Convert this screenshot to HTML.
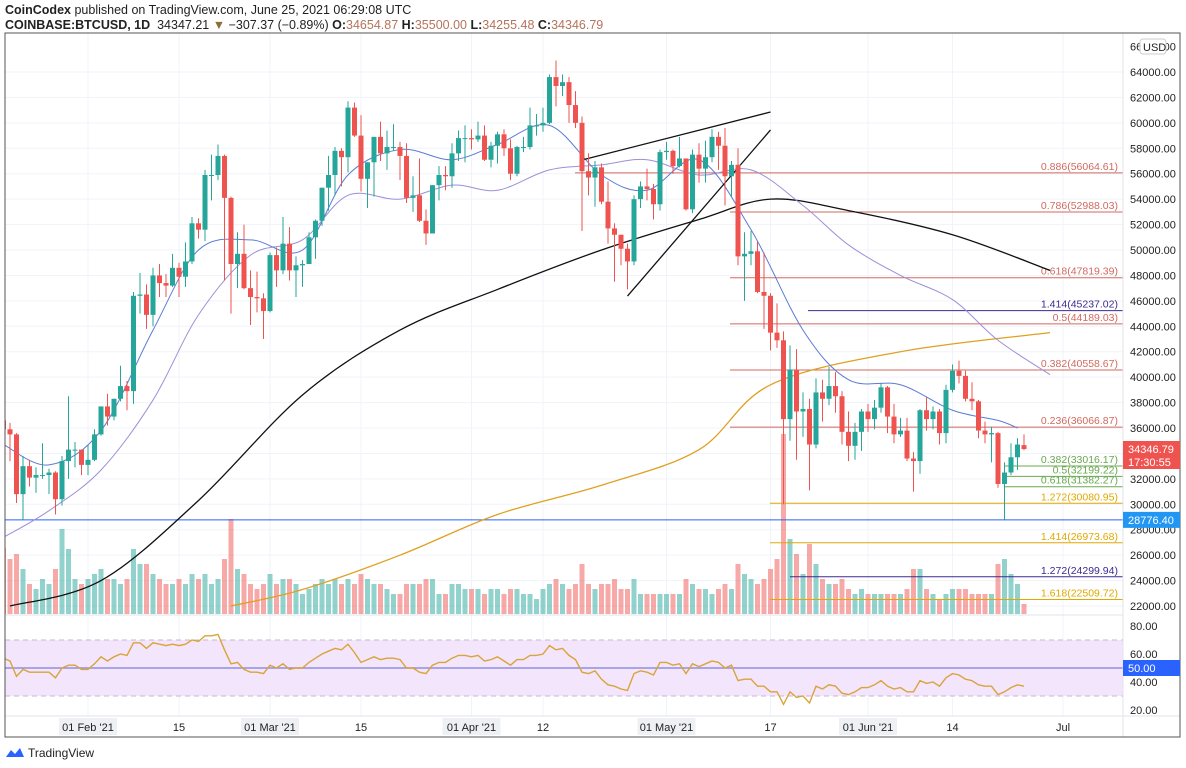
<!DOCTYPE html>
<html><head><meta charset="utf-8"><style>
body{margin:0;background:#fff;width:1186px;height:768px;overflow:hidden;font-family:"Liberation Sans",sans-serif}
#hdr1{position:absolute;left:5px;top:3px;font-size:12.5px;color:#222}
#hdr2{position:absolute;left:5px;top:18px;font-size:12.5px;color:#222}
.o{color:#b5735a}
svg{position:absolute;left:0;top:0}
</style></head><body>
<div id="hdr1"><b>CoinCodex</b> published on TradingView.com, June 25, 2021 06:29:08 UTC</div>
<div id="hdr2"><b>COINBASE:BTCUSD, 1D</b> &nbsp;34347.21 <span style="color:#8d6e3a">▼</span> −307.37 (−0.89%) <b>O:</b><span class="o">34654.87</span> <b>H:</b><span class="o">35500.00</span> <b>L:</b><span class="o">34255.48</span> <b>C:</b><span class="o">34346.79</span></div>
<svg id="chart" width="1186" height="768"></svg>
<script>
const closes=[35900,35500,30800,33000,32100,32300,32300,32500,30400,33400,34300,34300,33100,
33500,35500,37700,36900,38300,39300,38900,46400,46500,44900,48000,47400,47200,48600,47900,49100,52100,51600,55900,55900,57400,54100,48900,49700,47000,46300,46200,45200,
49600,48400,50500,48400,48800,48900,51000,52300,54900,55900,57800,57300,61200,59000,55600,56900,58900,57600,58100,58100,57400,54100,54300,52300,51300,55100,55900,55800,57600,58800,58800,
58700,59000,57100,58200,59100,58000,56000,58100,58100,59800,59800,60000,63600,62900,63200,61400,60000,56200,55700,56500,53800,51700,51200,50100,49100,54000,55000,54800,53600,57700,
57800,56600,57200,53200,57500,56400,57300,58900,58200,55800,56700,49500,49700,49900,46700,46400,43500,42900,36700,40600,37300,37500,34700,38800,38300,39300,38500,35700,34600,35700,37300,
36700,37600,39200,36900,35500,35800,33600,33400,37400,36700,37300,35600,39000,40500,40100,38300,38100,35800,35500,35600,31600,32500,33700,34700,34347];
const firstOpen=36600;
const highs=[37800,36400,35600,33800,33500,32900,34800,32800,32600,33800,38500,34900,34300,
34700,35900,37700,38700,38300,40900,39700,46700,48200,47300,48600,48900,48100,49700,49000,50600,52600,52500,56300,57500,58300,57500,54200,51400,52000,48400,48300,46600,
49800,50200,52600,51800,49500,49200,51400,52400,54900,57400,58100,58000,61700,61600,60600,56900,58900,60100,59400,59900,58500,58400,55800,57200,53200,55100,56600,56600,58400,59400,59800,
59500,60100,59800,58500,59300,59500,58700,58200,58900,61200,60700,61200,63800,64900,63800,63600,62500,60500,57600,57000,56800,55400,52100,51200,50500,54300,55400,56400,55200,57900,
58500,57900,58900,57200,57900,58400,58600,59500,59300,59600,57000,58000,51400,51500,50700,49800,46600,45800,43600,42500,42200,38800,38300,39900,39800,40800,40400,38900,37300,36400,37500,
37900,38200,39500,39300,37900,36800,36800,34100,37500,38400,37700,37500,39400,41000,41300,40500,39600,38200,36500,36100,35700,33300,34800,35200,35500];
const lows=[35500,33400,30100,28800,31400,30900,32000,30800,29200,29900,32000,32900,32300,
32300,33400,35400,36200,36600,38100,37400,37900,45000,43800,44000,46300,46300,47100,46300,47100,48900,50900,50700,53900,55500,47600,45000,47000,46900,44100,45100,43000,
45100,47100,48100,47600,46300,47100,48900,49300,51900,53100,54300,55000,56100,58900,54600,53300,54200,57000,56300,57800,55500,53700,53000,52200,50400,51300,53900,54700,54900,57000,56900,
57900,58500,57000,56500,56800,57400,55500,55800,57700,57900,59000,59300,59900,61300,62100,60000,59600,51500,54300,53400,53600,50500,47500,48800,46900,48800,53300,53900,52400,53100,
57100,56000,56500,53100,52900,55300,55300,56900,56300,53500,54200,48800,46000,48800,46600,43800,42100,42300,30000,35000,33500,35300,31100,34400,36500,37800,37200,34700,33400,33500,34200,
35700,35900,37200,35600,34800,35300,33400,31000,32400,35800,35900,34700,34800,38800,39500,38100,37400,35200,34800,33300,31300,28800,32300,32700,34255];
const volumes=[66,55,60,45,30,25,35,30,45,85,65,35,30,
35,40,45,35,35,30,35,65,50,50,40,35,30,30,35,30,40,35,40,30,35,55,95,45,40,30,25,30,
40,30,35,35,30,20,25,30,35,30,35,30,35,30,40,35,30,30,25,20,20,30,30,30,35,35,20,20,30,30,25,
25,25,20,25,25,20,25,25,20,20,15,25,30,35,30,25,30,50,30,25,30,30,35,25,25,35,20,20,20,20,
20,20,20,35,30,25,25,20,25,30,25,50,40,35,30,35,45,55,180,75,60,40,70,50,35,30,30,35,25,20,25,
20,20,20,20,20,20,25,45,45,25,20,15,20,25,25,25,20,20,20,20,50,55,40,30,10];
const rsi=[57,55,44,49,47,47,47,47,43,50,52,52,49,
49,53,58,55,58,60,59,68,68,64,68,67,66,67,66,67,70,69,73,73,74,63,53,54,49,47,47,46,
52,50,53,49,50,50,54,57,60,62,64,63,67,61,54,56,58,56,57,57,56,50,50,47,46,52,54,54,57,59,59,
58,59,55,56,58,55,52,56,56,59,59,60,66,63,64,59,56,47,46,48,42,38,37,35,34,46,48,47,45,54,
54,52,53,46,53,51,53,55,54,50,52,41,42,42,37,37,33,33,24,33,29,30,25,37,35,38,37,32,31,33,36,
36,38,41,37,35,36,33,33,41,39,40,37,43,46,45,42,41,38,37,37,31,33,36,38,37];
const ma20=[[0,34700],[7,33100],[15,35800],[23,43700],[30,50000],[38,50800],[46,50000],[53,55900],[61,57900],[69,57100],[76,58300],[84,59800],[92,55900],[99,54700],[107,57100],[115,51600],[123,43700],[130,39800],[138,39400],[146,37400],[153,36600],[156,36000]];
const ma50=[[0,27400],[7,29500],[15,32700],[23,38200],[30,44900],[38,49600],[46,50800],[53,54300],[61,54000],[69,55100],[76,54700],[84,56300],[92,56700],[99,57100],[107,55900],[115,56300],[123,53500],[130,50400],[138,48000],[146,46100],[153,42900],[161,40200]];
const ma100=[[1,22000],[15,24000],[30,30300],[46,38600],[61,43700],[76,46900],[92,50000],[107,52400],[118,54000],[130,53100],[146,51200],[161,48400]];
const ma200=[[35,22000],[46,23300],[61,26000],[76,29200],[92,31500],[107,34300],[118,39400],[138,42000],[161,43500]];
const priceTicks=[22000,24000,26000,28000,30000,32000,34000,36000,38000,40000,42000,44000,46000,48000,50000,52000,54000,56000,58000,60000,62000,64000];
const rsiTicks=[20,40,60,80];
const timeLabels=[["01 Feb '21",13,1],["15",27,0],["01 Mar '21",41,1],["15",55,0],["01 Apr '21",72,1],["12",83,0],["01 May '21",102,1],["17",118,0],["01 Jun '21",133,1],["14",146,0],["Jul",163,0]];
const fibs=[["0.886(56064.61)",56064.61,575,"#d06a60"],["0.786(52988.03)",52988.03,730,"#d06a60"],["0.618(47819.39)",47819.39,730,"#d06a60"],["1.414(45237.02)",45237.02,808,"#3b2a8f"],["0.5(44189.03)",44189.03,730,"#d06a60"],["0.382(40558.67)",40558.67,730,"#d06a60"],["0.236(36066.87)",36066.87,730,"#d06a60"],["0.382(33016.17)",33016.17,1005,"#6aa84f"],["0.5(32199.22)",32199.22,1005,"#6aa84f"],["0.618(31382.27)",31382.27,1005,"#6aa84f"],["1.272(30080.95)",30080.95,770,"#e0a800"],["1.414(26973.68)",26973.68,770,"#e0a800"],["1.272(24299.94)",24299.94,790,"#3b2a8f"],["1.618(22509.72)",22509.72,770,"#e0a800"]];
const trendLines=[[[89,57080],[118,60850]],[[96,46380],[118,59440]]];

const X=i=>3.5+i*6.5;
const Y=p=>72+(64000-p)/2000*25.43;
const RY=v=>668-(v-50)*1.4;
const VY=v=>614-v;
const R=1123;
const svg=document.getElementById('chart');
const NS='http://www.w3.org/2000/svg';
function mk(t,a,parent){const e=document.createElementNS(NS,t);for(const k in a)e.setAttribute(k,a[k]);(parent||svg).appendChild(e);return e;}

const defs=mk('defs',{});
const cp=mk('clipPath',{id:'cl'},defs);mk('rect',{x:5,y:33,width:R-5,height:582},cp);
const cp2=mk('clipPath',{id:'cl2'},defs);mk('rect',{x:5,y:616,width:R-5,height:100},cp2);

priceTicks.forEach(p=>{const l=mk('line',{x1:5,x2:R,y1:Y(p),y2:Y(p),stroke:'#f0f3fa'});
});
timeLabels.forEach(t=>{const l=mk('line',{x1:X(t[1]),x2:X(t[1]),y1:33,y2:716,stroke:'#f0f3fa'});
});

const band=mk('rect',{x:5,y:RY(70),width:R-5,height:RY(30)-RY(70),fill:'#f3e5fb'});

[70,30].forEach(v=>{const l=mk('line',{x1:5,x2:R,y1:RY(v),y2:RY(v),stroke:'#c9b5cf','stroke-dasharray':'5,4'});
});
const r50=mk('line',{x1:5,x2:R,y1:RY(50),y2:RY(50),stroke:'#8f8ee0','stroke-width':1.5});


const g=mk('g',{'clip-path':'url(#cl)'});
volumes.forEach((v,i)=>{const o=i?closes[i-1]:firstOpen;const up=closes[i]>=o;
const b=mk('rect',{x:X(i)-2.5,y:VY(v),width:5,height:v,fill:up?'rgba(38,166,154,0.5)':'rgba(239,83,80,0.5)'},g);
});

fibs.forEach(f=>{const y=Y(f[1]);
const l=mk('line',{x1:f[2],x2:R,y1:y,y2:y,stroke:f[3],'stroke-width':1},g);

const t=mk('text',{x:R-5,y:y-3,'text-anchor':'end','font-size':10.5,fill:f[3]},g);t.textContent=f[0];
});
const hl=mk('line',{x1:5,x2:R,y1:Y(28776.4),y2:Y(28776.4),stroke:'#2962ff','stroke-width':1},g);


function smooth(pts){let d='M'+pts[0][0]+','+pts[0][1];
for(let k=0;k<pts.length-1;k++){const p0=pts[k-1]||pts[k],p1=pts[k],p2=pts[k+1],p3=pts[k+2]||p2;
const c1=[p1[0]+(p2[0]-p0[0])/6,p1[1]+(p2[1]-p0[1])/6],c2=[p2[0]-(p3[0]-p1[0])/6,p2[1]-(p3[1]-p1[1])/6];
d+=' C'+c1[0]+','+c1[1]+' '+c2[0]+','+c2[1]+' '+p2[0]+','+p2[1];}return d;}
function maLine(arr,color,name,w){const d=smooth(arr.map(p=>[X(p[0]),Y(p[1])]));
const pth=mk('path',{d,fill:'none',stroke:color,'stroke-width':w},g);
}
maLine(ma200,'#e0a020','ma-200-line',1.3);
maLine(ma100,'#111','ma-100-line',1.3);
maLine(ma50,'#9c8fd8','ma-50-line',1);
maLine(ma20,'#5b7bd5','ma-20-line',1);
trendLines.forEach(t=>{const l=mk('line',{x1:X(t[0][0]),y1:Y(t[0][1]),x2:X(t[1][0]),y2:Y(t[1][1]),stroke:'#111','stroke-width':1.3},g);
});

closes.forEach((c,i)=>{const o=i?closes[i-1]:firstOpen;const oo=(i===closes.length-1)?34654:o;const up=c>=oo;const col=up?'#26a69a':'#ef5350';
const w=mk('line',{x1:X(i),x2:X(i),y1:Y(highs[i]),y2:Y(lows[i]),stroke:col},g);

const top=Y(Math.max(c,oo)),h=Math.max(1,Math.abs(Y(c)-Y(oo)));
const b=mk('rect',{x:X(i)-2.5,y:top,width:5,height:h,fill:col},g);
});

const rd=rsi.map((v,i)=>(i?'L':'M')+X(i)+','+RY(v)).join(' ');
const rl=mk('path',{d:rd,fill:'none',stroke:'#d9a43a','stroke-width':1.4,'clip-path':'url(#cl2)'});


[[5,615,R,615],[5,716,1180,716],[R,33,R,737]].forEach(s=>{const l=mk('line',{x1:s[0],y1:s[1],x2:s[2],y2:s[3],stroke:'#e0e3eb'});
});
const frame=mk('rect',{x:5,y:33,width:1175,height:704,fill:'none',stroke:'#555','stroke-width':1});


priceTicks.concat([66000]).forEach(p=>{const t=mk('text',{x:1130,y:Y(p)+4,'font-size':11,fill:'#222'});t.textContent=p.toFixed(2);
});
rsiTicks.forEach(v=>{const t=mk('text',{x:1130,y:RY(v)+4,'font-size':11,fill:'#222'});t.textContent=v.toFixed(2);
});
const ub=mk('rect',{x:1140,y:39,width:26,height:15,rx:3,fill:'#fff',stroke:'#ccc'});

const ut=mk('text',{x:1143,y:51,'font-size':11,fill:'#222'});ut.textContent='USD';


function tag(y,h,fill,lines,name){const r=mk('rect',{x:R,y:y,width:57,height:h,fill});

lines.forEach((s,k)=>{const t=mk('text',{x:1128,y:y+12+k*13,'font-size':11,fill:'#fff'});t.textContent=s;
});}
tag(441,28,'#ef5350',['34346.79','17:30:55'],'last-price-tag');
tag(Y(28776.4)-8,16,'#2196f3',['28776.40'],'line-price-tag');
tag(RY(50)-8,16,'#2962ff',['50.00'],'rsi-mid-tag');

timeLabels.forEach(t=>{const x=X(t[1]);
if(t[2]){const r=mk('rect',{x:x-29,y:718,width:58,height:17,fill:'#eef0f4'});}
const tx=mk('text',{x:x,y:731,'text-anchor':'middle','font-size':11,fill:'#222'});tx.textContent=t[0];
});

const lg=mk('g',{});
mk('path',{d:'M6,757 L11,750 L15,754 L20,748 L24,757 Z',fill:'#2962ff'},lg);
const lt=mk('text',{x:28,y:757,'font-size':12,fill:'#222'},lg);lt.textContent='TradingView';
</script>
</body></html>
